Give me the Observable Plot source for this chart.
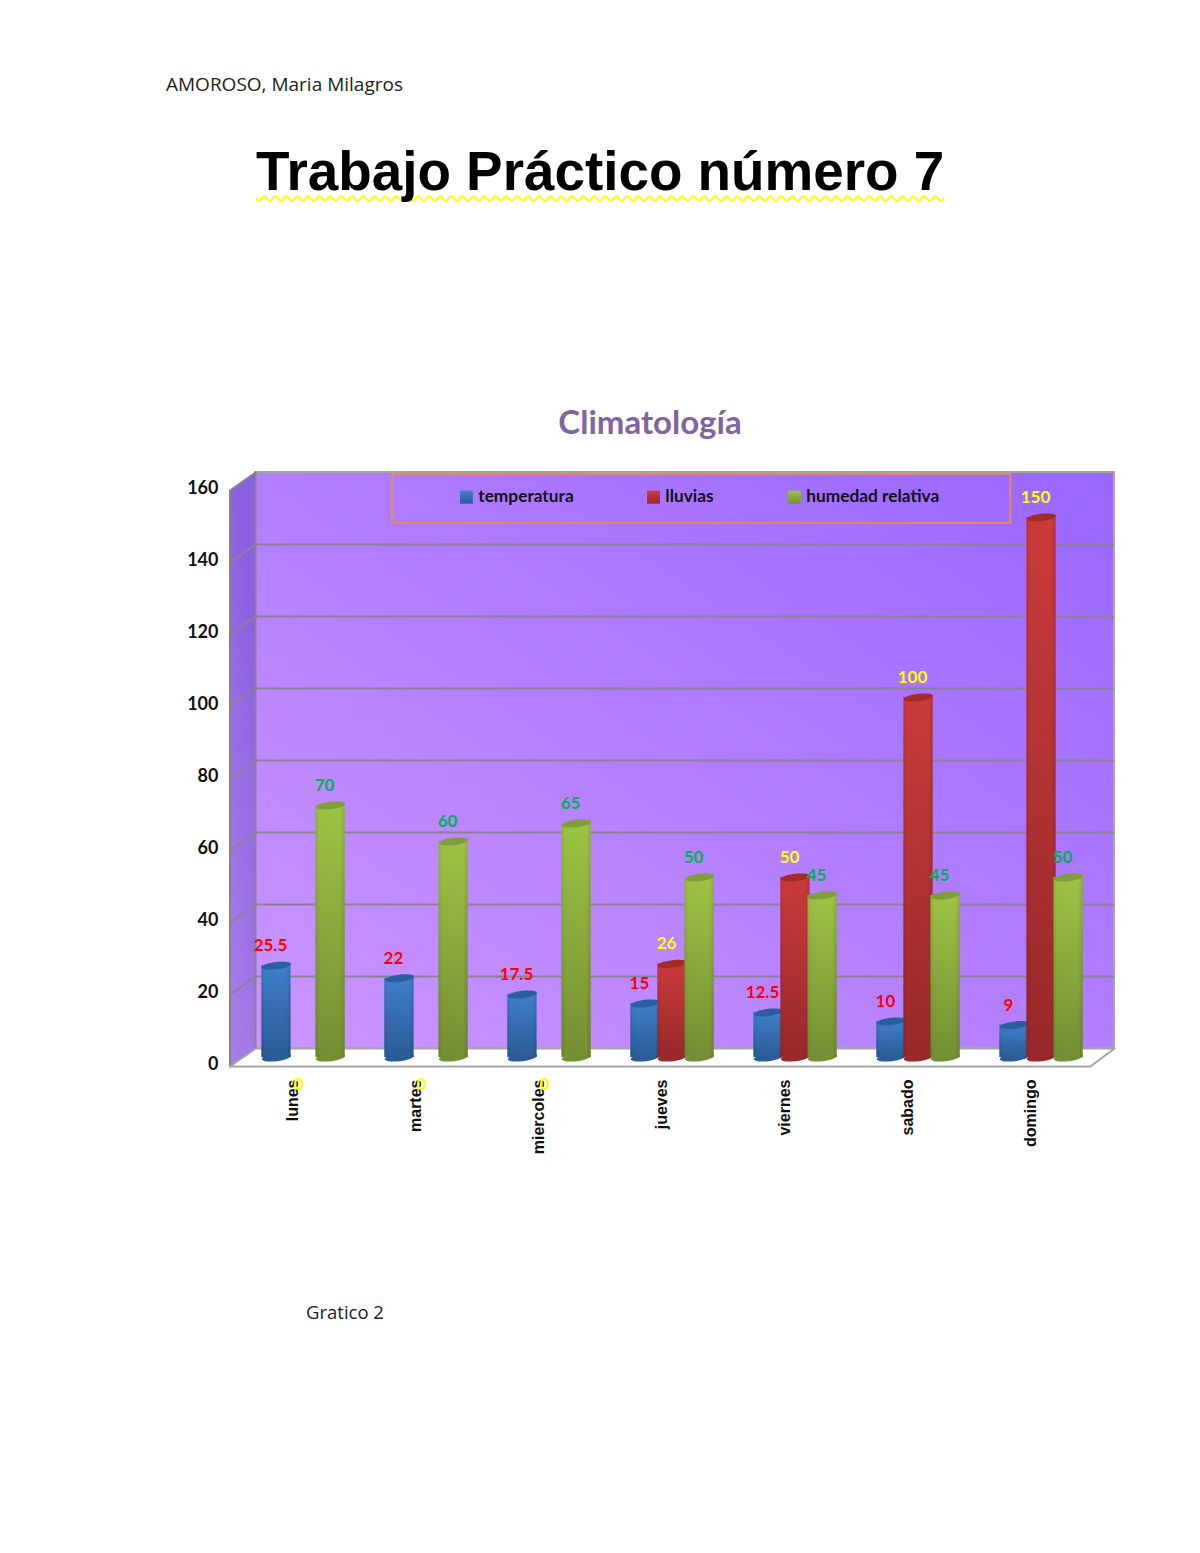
<!DOCTYPE html>
<html lang="es">
<head>
<meta charset="utf-8">
<title>Climatología</title>
<script src="https://cdn.jsdelivr.net/npm/d3@7"></script>
<script src="https://cdn.jsdelivr.net/npm/@observablehq/plot@0.6"></script>
<style>
  html, body { margin: 0; background: #fff; }
  #page { position: relative; width: 1200px; height: 1553px; overflow: hidden; }
  #head { position: relative; height: 460px; }
  .t { position: absolute; white-space: nowrap; margin: 0; }
  #author { left: 166px; top: 71px; font: 19px "Open Sans", sans-serif; color: #222; }
  #doc { left: 256px; top: 138px; font: bold 54.8px "Liberation Sans", sans-serif; color: #000; line-height: 66px;
         text-decoration: underline wavy #ffff00 2px; text-decoration-skip-ink: none; text-underline-offset: 5px; }
  #chartTitle { left: 0; width: 1300px; text-align: center; top: 401px; font: bold 33px Lato, sans-serif; color: #8064a2; }
  #caption { left: 306px; top: 1299px; font: 18.5px "Open Sans", sans-serif; color: #222; }
  svg { display: block; }
</style>
</head>
<body>
<div id="page">
  <div id="head">
    <p class="t" id="author">AMOROSO, Maria Milagros</p>
    <h1 class="t" id="doc">Trabajo Práctico número 7</h1>
    <h2 class="t" id="chartTitle">Climatología</h2>
  </div>
  <div id="chart"></div>
  <p class="t" id="caption">Gratico 2</p>
</div>
<script>
const days = ["lunes", "martes", "miercoles", "jueves", "viernes", "sabado", "domingo"];
const temperatura = [25.5, 22, 17.5, 15, 12.5, 10, 9];
const lluvias = [0, 0, 0, 26, 50, 100, 150];
const humedad = [70, 60, 65, 50, 45, 45, 50];
const yTicks = [0, 20, 40, 60, 80, 100, 120, 140, 160];
const legendNames = ["temperatura", "lluvias", "humedad relativa"];

const seriesDefs = [
  {name: "temperatura", values: temperatura, offset: -0.22, grad: "gBlue",  bottom: "#2b5c97", top: "#2a5f9e", label: "#ff0000"},
  {name: "lluvias",     values: lluvias,     offset: 0,     grad: "gRed",   bottom: "#98282a", top: "#a52a2a", label: "#ffff00"},
  {name: "humedad",     values: humedad,     offset: 0.22,  grad: "gGreen", bottom: "#738f33", top: "#7f9e3a", label: "#00b050"}
];

const halfBar = 0.119, depth = 2.5;
const xBackL = -0.39, xFrontL = -0.598, xBackR = 6.593, xFrontR = 6.398;
const yMax = 160;

function ellipseSymbol() {
  return {
    draw(c, size) {
      const rx = Math.sqrt(size / Math.PI), ry = rx * 0.25, a = -0.12;
      const cs = Math.cos(a), sn = Math.sin(a), k = 0.5523;
      const P = (x, y) => [x * cs - y * sn, x * sn + y * cs];
      const B = (a1, a2, a3, b1, b2, b3) => c.bezierCurveTo(...P(a1, a2), ...P(a3, b1), ...P(b2, b3));
      c.moveTo(...P(rx, 0));
      B(rx, k * ry, k * rx, ry, 0, ry);
      B(-k * rx, ry, -rx, k * ry, -rx, 0);
      B(-rx, -k * ry, -k * rx, -ry, 0, -ry);
      B(k * rx, -ry, rx, -k * ry, rx, 0);
      c.closePath();
    }
  };
}

function defs() {
  const d = d3.create("svg:defs");
  const add = (id, stops, v = [0, 0, 0, 1]) => {
    const g = d.append("linearGradient").attr("id", id)
      .attr("x1", v[0]).attr("y1", v[1]).attr("x2", v[2]).attr("y2", v[3]);
    stops.forEach(([o, c, a]) => {
      const s = g.append("stop").attr("offset", o).attr("stop-color", c);
      if (a !== undefined) s.attr("stop-opacity", a);
    });
  };
  add("gBlue", [[0, "#3f7fcb"], [1, "#2b5c97"]]);
  add("gRed", [[0, "#cc3b3b"], [1, "#98282a"]]);
  add("gGreen", [[0, "#9dc444"], [1, "#738f33"]]);
  add("gShade", [[0, "#000", 0.1], [0.12, "#000", 0.01], [0.85, "#000", 0], [1, "#000", 0.12]], [0, 0, 1, 0]);
  add("gWall", [[0, "#cb95ff"], [1, "#9966ff"]], [0, 1, 1, 0]);
  add("gSide", [[0, "#ab7fe8"], [1, "#8a5fe0"]], [0, 1, 0.3, 0]);
  return d.node();
}

const gridStroke = "#8b8098";
const edgeStroke = "#a5a5a5";
const sym = ellipseSymbol();

const side = [
  {x: xFrontL, y: -depth}, {x: xBackL, y: depth},
  {x: xBackL, y: yMax + depth}, {x: xFrontL, y: yMax - depth}
];
const floor = [
  {x: xFrontL, y: -depth}, {x: xBackL, y: depth},
  {x: xBackR, y: depth}, {x: xFrontR, y: -depth}
];

const barMarks = seriesDefs.flatMap(s => {
  const rows = s.values.map((v, i) => ({i, v})).filter(d => d.v > 0);
  const cx = d => d.i + s.offset;
  const body = {x1: d => cx(d) - halfBar, x2: d => cx(d) + halfBar, y1: () => 0, y2: "v"};
  return [
    Plot.dot(rows, {x: cx, y: () => 0, r: 14.7, symbol: sym, fill: s.bottom, stroke: "none"}),
    Plot.rect(rows, {...body, fill: `url(#${s.grad})`}),
    Plot.rect(rows, {...body, fill: "url(#gShade)"}),
    Plot.dot(rows, {x: cx, y: "v", r: 14.7, symbol: sym, fill: s.top, stroke: "none"})
  ];
});

const labelMarks = seriesDefs.map(s => {
  const rows = s.values.map((v, i) => ({i, v})).filter(d => d.v > 0);
  return Plot.text(rows, {x: d => d.i + s.offset, y: "v", text: d => String(d.v), dx: -6, dy: -20,
    fill: s.label, fontSize: 17, fontWeight: 700, fontFamily: "Lato"});
});

const zeroRows = lluvias.map((v, i) => ({i, v})).filter(d => d.v === 0);

const legendRows = legendNames.map((name, k) => ({name, k, sx: [1.276, 2.797, 3.943][k]}));
const legendY = 155.5;
const legendColors = ["url(#gBlue)", "url(#gRed)", "url(#gGreen)"];

const plot = Plot.plot({
  width: 1200,
  height: 720,
  marginLeft: 229,
  marginRight: 0,
  marginTop: 0,
  marginBottom: 114,
  style: {background: "transparent", overflow: "visible"},
  x: {type: "linear", domain: [0, 6], range: [303, 1041], axis: null},
  y: {type: "linear", domain: [0, yMax], range: [597, 21], axis: null},
  marks: [
    defs,
    // Back wall, side wall and floor
    Plot.rect([0], {x1: xBackL, x2: xBackR, y1: depth, y2: yMax + depth, fill: "url(#gWall)", stroke: edgeStroke, strokeWidth: 2}),
    Plot.line(side, {x: "x", y: "y", curve: "linear-closed", fill: "url(#gSide)", stroke: gridStroke, strokeWidth: 2}),
    Plot.line(floor, {x: "x", y: "y", curve: "linear-closed", fill: "#ffffff", stroke: edgeStroke, strokeWidth: 2}),
    // Gridlines on both walls
    Plot.ruleY(yTicks.slice(1, -1), {x1: xBackL, x2: xBackR, y: d => d + depth, stroke: gridStroke, strokeWidth: 2}),
    ...yTicks.slice(1, -1).map(t => Plot.line([{x: xFrontL, y: t - depth}, {x: xBackL, y: t + depth}],
      {x: "x", y: "y", stroke: gridStroke, strokeWidth: 2})),
    // Legend box
    Plot.rect([0], {x1: 0.725, x2: 5.75, y1: 148.4, y2: 162, fill: "none", stroke: "#e58a5c", strokeWidth: 2}),
    // Bars
    ...barMarks,
    // Legend entries
    Plot.rect(legendRows, {x1: d => d.sx, x2: d => d.sx + 0.105, y1: legendY - 1.8, y2: legendY + 1.8,
      fill: (d) => legendColors[d.k]}),
    Plot.text(legendRows, {x: d => d.sx + 0.145, y: legendY + 0.3, text: "name", textAnchor: "start",
      fontSize: 17.3, fontWeight: 700, fontFamily: "Lato", fill: "#111"}),
    // Axes
    Plot.axisY({ticks: yTicks, tickSize: 0, tickPadding: 11, dy: 7, label: null,
      fontSize: 18, fontWeight: 700, fontFamily: "Lato", fill: "#111"}),
    Plot.axisX({ticks: d3.range(days.length), tickFormat: i => days[i], tickRotate: -90, tickSize: 0, tickPadding: 13,
      dx: -11, label: null, fontSize: 16, fontWeight: 700, fontFamily: "Liberation Sans", fill: "#111"}),
    // Data labels
    ...labelMarks,
    Plot.text(zeroRows, {x: "i", y: "v", text: d => String(d.v), dx: -5, dy: 27,
      fill: "#ffff00", fontSize: 17, fontWeight: 700, fontFamily: "Lato"})
  ]
});
document.getElementById("chart").appendChild(plot);
</script>
</body>
</html>
